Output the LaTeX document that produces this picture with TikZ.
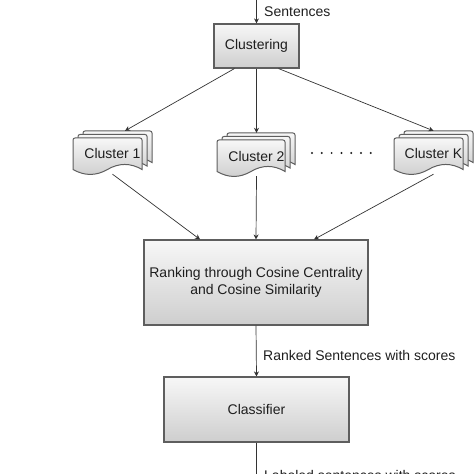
\documentclass[tikz,border=0pt]{standalone}
\usepackage{fontspec}
\setmainfont{Liberation Sans}
\usetikzlibrary{arrows.meta}
\definecolor{edgecol}{HTML}{333333}
\definecolor{boxline}{HTML}{5E5E5E}
\definecolor{gtop}{HTML}{F7F7F7}
\definecolor{gbot}{HTML}{CECECE}
\definecolor{txt}{HTML}{1E1E1E}
\tikzset{
  procbox/.style={draw=boxline, line width=1.1bp, top color=gtop, bottom color=gbot,
    inner sep=0pt, text=txt, font=\fontsize{14bp}{17bp}\selectfont, align=center},
  flow/.style={draw=edgecol, line width=0.7bp, -{Stealth[length=5bp,width=5bp]}},
  plain/.style={draw=edgecol, line width=0.7bp},
  lbl/.style={font=\fontsize{14bp}{17bp}\selectfont, text=txt, anchor=west, inner sep=0pt},
  docshape/.style={draw=boxline, line width=1bp, top color=gtop, bottom color=gbot},
  grouplabel/.style={inner sep=0pt, text=txt, font=\fontsize{14bp}{17bp}\selectfont},
  dotmark/.style={fill=txt, draw=none}
}
% document shape: x, y(top), w, h
\newcommand{\docat}[4]{%
  \path[docshape] (#1,#2+0.85*#4) [rounded corners=2bp] -- (#1,#2) -- (#1+#3,#2) [sharp corners] -- (#1+#3,#2+0.85*#4)
    .. controls (#1+0.8333*#3,#2+0.67*#4) and (#1+0.6667*#3,#2+0.67*#4) .. (#1+0.5*#3,#2+0.85*#4)
    .. controls (#1+0.3333*#3,#2+1.03*#4) and (#1+0.1667*#3,#2+1.03*#4) .. (#1,#2+0.85*#4)
    -- cycle;}
% multi document: x, y(top) of front, w, h
\newcommand{\multidocat}[4]{%
  \docat{#1+10}{#2-7}{#3}{#4}
  \docat{#1+5}{#2-3.5}{#3}{#4}
  \docat{#1}{#2}{#3}{#4}}
\begin{document}
\begin{tikzpicture}[x=1bp,y=-1bp]
\useasboundingbox (0,0) rectangle (474,474);

% main boxes
\node[procbox, minimum width=85bp, minimum height=44bp] (clus) at (256.5,46) {Clustering};
\node[procbox, minimum width=224bp, minimum height=85bp] (rank) at (256,282.5)
  {Ranking through Cosine Centrality\\and Cosine Similarity};
\node[procbox, minimum width=185bp, minimum height=65bp] (cls) at (256.5,409.5) {Classifier};

% cluster group placeholders (for connectors)
\path (112.5,152.5) node[minimum width=79bp, minimum height=43bp, inner sep=0pt] (c1) {};
\path (256.5,154.5) node[minimum width=79bp, minimum height=43bp, inner sep=0pt] (c2) {};
\path (433.5,152.5) node[minimum width=79bp, minimum height=43bp, inner sep=0pt] (ck) {};

% connectors from clusters to ranking (behind the shapes)
\draw[flow] (c1.south) -- ([xshift=-56bp]rank.north);
\draw[flow] (c2.south) -- (rank.north);
\draw[flow] (ck.south) -- ([xshift=58bp]rank.north);

% multi-document shapes
\multidocat{73}{138}{69}{37}
\multidocat{217}{140}{68}{37}
\multidocat{394}{138}{69}{37}

\node[grouplabel] (c1t) at (112.5,153) {Cluster 1};
\node[grouplabel] (c2t) at (256.5,156) {Cluster 2};
\node[grouplabel] (ckt) at (433.5,153) {Cluster K};

% dots
\foreach \i in {0,...,6} {\fill[dotmark] (312+\i*9.8,153) circle (1.1);}

% input
\coordinate (in) at (256.5,-5);
\draw[flow] (in) -- (clus.north);
\node[lbl] (sentl) at (264,11.5) {Sentences};

% clustering to clusters
\draw[flow] ([xshift=-22bp]clus.south) -- ([xshift=12.5bp]c1.north);
\draw[flow] (clus.south) -- (c2.north);
\draw[flow] ([xshift=22bp]clus.south) -- (ck.north);

% ranking to classifier
\draw[flow] (rank.south) -- (cls.north);
\node[lbl] (rankl) at (263,355) {Ranked Sentences with scores};

% output
\coordinate (out) at (256.5,490);
\draw[plain] (cls.south) -- (out);
\node[lbl] (outl) at (264,475.5) {Labeled sentences with scores};
\end{tikzpicture}
\end{document}
